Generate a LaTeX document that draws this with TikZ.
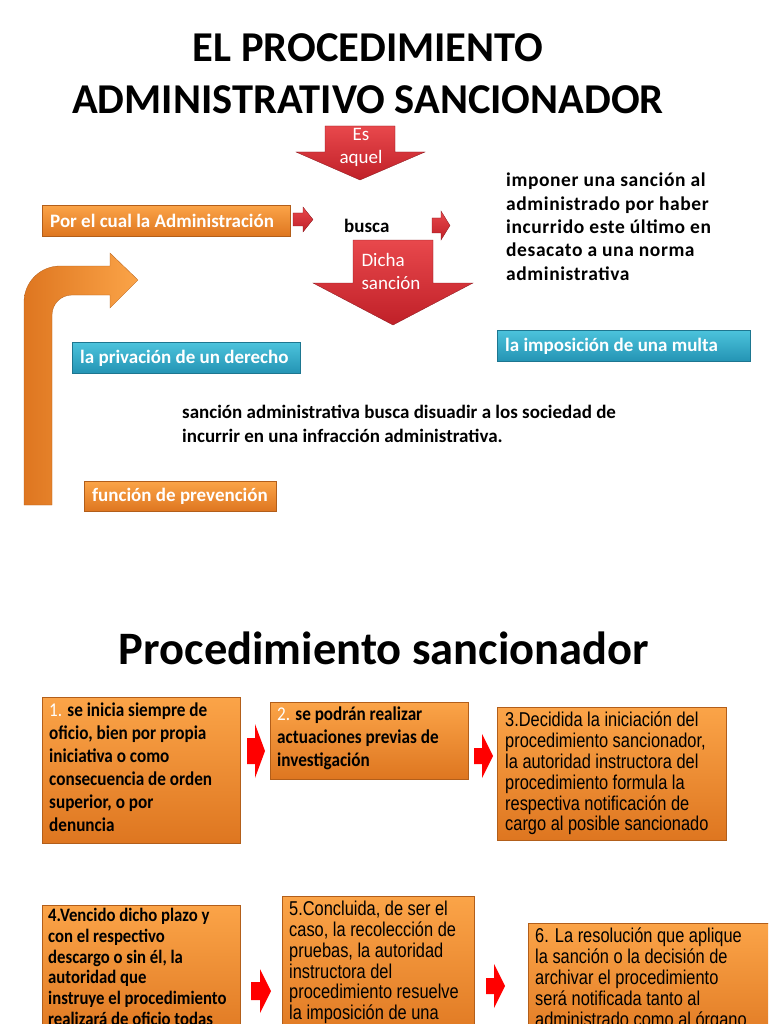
\documentclass[tikz,border=0pt]{standalone}
\usepackage{fontspec}
\setmainfont{Carlito}
\newfontfamily\narrowfont[FakeStretch=0.82]{Liberation Sans}
\newfontfamily\narrowcal[FakeStretch=0.88]{Carlito}
\definecolor{orT}{HTML}{FBA448}
\definecolor{orB}{HTML}{DE7620}
\definecolor{blT}{HTML}{4CC3DC}
\definecolor{blB}{HTML}{2494B4}
\definecolor{rdT}{HTML}{E8484C}
\definecolor{rdB}{HTML}{C02028}
\begin{document}
\begin{tikzpicture}[x=1pt,y=-1pt,
  obox/.style={top color=orT,bottom color=orB,draw=orB!80!black,line width=0.4pt},
  bbox/.style={top color=blT,bottom color=blB,draw=blB!80!black,line width=0.4pt},
  rarr/.style={top color=rdT,bottom color=rdB,draw=rdB!70!black,line width=0.3pt},
  flat/.style={fill=red,draw=none},
  lbl/.style={anchor=west,inner sep=0pt,font=\fontsize{19}{22}\selectfont\bfseries},
  wt/.style={text=white}]
\useasboundingbox (0,0) rectangle (768,1024);
\clip (0,0) rectangle (768,1024);
% title
\node[font=\fontsize{42.5}{48}\selectfont\bfseries] (t1) at (368,48) {EL PROCEDIMIENTO};
\node[font=\fontsize{42.5}{48}\selectfont\bfseries] (t2) at (368,100) {ADMINISTRATIVO SANCIONADOR};
% Es aquel arrow
\path[rarr] (325,126) -- (395,126) -- (395,152) -- (425,152) -- (360,180) -- (296,152) -- (325,152) -- cycle;
\node[wt,align=center,font=\fontsize{19}{23}\selectfont] (esaquel) at (361,147) {Es\\aquel};
% por el cual
\node[obox,minimum width=248pt,minimum height=31pt,anchor=north west,inner sep=0pt] (porel) at (42,205) {};
\node[lbl,wt] (porelt) at (50,220.5) {Por el cual la Administración};
\path[rarr] (293,213) -- (303,213) -- (303,207) -- (313,219.5) -- (303,232) -- (303,226) -- (293,226) -- cycle;
\node[lbl] (busca) at (344,226) {busca};
\path[rarr] (432,218) -- (441,218) -- (441,211) -- (450,225.5) -- (441,240) -- (441,233) -- (432,233) -- cycle;
% Dicha sancion arrow
\path[rarr] (353,240) -- (433,240) -- (433,283) -- (473,283) -- (393,325) -- (313,283) -- (353,283) -- cycle;
\node[wt,align=left,font=\fontsize{19}{23}\selectfont] (dicha) at (391,271) {Dicha\\sanción};
% right text
\node[anchor=north west,inner sep=0pt,align=left,font=\fontsize{19.5}{23.3}\selectfont\bfseries\addfontfeature{LetterSpace=3}] (impon) at (506,173)
 {imponer una sanción al\\administrado por haber\\incurrido este último en\\desacato a una norma\\administrativa};
% blue boxes
\node[bbox,minimum width=253pt,minimum height=31pt,anchor=north west,inner sep=0pt] (multa) at (497,330) {};
\node[lbl,wt] (multat) at (505,346) {la imposición de una multa};
\node[bbox,minimum width=228pt,minimum height=31pt,anchor=north west,inner sep=0pt] (priv) at (72,342) {};
\node[lbl,wt] (privt) at (80,358) {la privación de un derecho};
% sancion admin text
\node[anchor=north west,inner sep=0pt,align=left,font=\fontsize{19}{24}\selectfont\bfseries] (disu) at (182,405)
 {sanción administrativa busca disuadir a los sociedad de\\incurrir en una infracción administrativa.};
% funcion de prevencion
\node[obox,minimum width=192pt,minimum height=30pt,anchor=north west,inner sep=0pt] (func) at (84,481) {};
\node[lbl,wt] (funct) at (92,496) {función de prevención};
% bent arrow
\path[left color=orB,right color=orT,draw=orB!80!black,line width=0.3pt]
  (24,505) -- (24,302) arc[start angle=180,end angle=270,radius=36] -- (110,266) -- (110,253) -- (138,280)
  -- (110,308) -- (110,295) -- (72,295) arc[start angle=270,end angle=180,radius=20] -- (52,505) -- cycle;
% section 2
\node[font=\fontsize{46.5}{52}\selectfont\bfseries] (t3) at (384,648) {Procedimiento sancionador};
\tikzset{sbox/.style={obox,anchor=north west,inner sep=0pt}}
\node[sbox,minimum width=198pt,minimum height=146pt] (b1) at (42,697) {};
\node[anchor=north west,inner sep=0pt,align=left,font=\narrowcal\fontsize{19.5}{23}\selectfont\bfseries] (b1t) at (49,703)
 {{\color{white}\mdseries 1.} se inicia siempre de\\oficio, bien por propia\\iniciativa o como\\consecuencia de orden\\superior, o por\\denuncia};
\node[sbox,minimum width=198pt,minimum height=77pt] (b2) at (270,702) {};
\node[anchor=north west,inner sep=0pt,align=left,font=\narrowcal\fontsize{19.5}{23}\selectfont\bfseries] (b2t) at (277,707)
 {{\color{white}\mdseries 2.} se podrán realizar\\actuaciones previas de\\investigación};
\node[sbox,minimum width=229pt,minimum height=133pt] (b3) at (497,707) {};
\node[anchor=north west,inner sep=0pt,align=left,font=\narrowfont\fontsize{20}{20.8}\selectfont] (b3t) at (505,712)
 {3.Decidida la iniciación del\\procedimiento sancionador,\\la autoridad instructora del\\procedimiento formula la\\respectiva notificación de\\cargo al posible sancionado};
\path[flat] (247,738) -- (255,738) -- (255,724) -- (265,751) -- (255,778) -- (255,764) -- (247,764) -- cycle;
\path[flat] (474,748) -- (482,748) -- (482,734) -- (493,756) -- (482,778) -- (482,764) -- (474,764) -- cycle;
% row 2
\node[sbox,minimum width=198pt,minimum height=140pt] (b4) at (42,905) {};
\node[anchor=north west,inner sep=0pt,align=left,font=\narrowcal\fontsize{19}{20.8}\selectfont\bfseries] (b4t) at (48,908)
 {4.Vencido dicho plazo y\\con el respectivo\\descargo o sin él, la\\autoridad que\\instruye el procedimiento\\realizará de oficio todas};
\node[sbox,minimum width=192pt,minimum height=150pt] (b5) at (282,896) {};
\node[anchor=north west,inner sep=0pt,align=left,font=\narrowfont\fontsize{20}{20.8}\selectfont] (b5t) at (289,901)
 {5.Concluida, de ser el\\caso, la recolección de\\pruebas, la autoridad\\instructora del\\procedimiento resuelve\\la imposición de una};
\node[sbox,minimum width=245pt,minimum height=130pt] (b6) at (528,923) {};
\node[anchor=north west,inner sep=0pt,align=left,font=\narrowfont\fontsize{20}{20.8}\selectfont] (b6t) at (535,928)
 {6. La resolución que aplique\\la sanción o la decisión de\\archivar el procedimiento\\será notificada tanto al\\administrado como al órgano};
\path[flat] (251,982) -- (260,982) -- (260,969) -- (271,991) -- (260,1013) -- (260,1000) -- (251,1000) -- cycle;
\path[flat] (486,978) -- (494,978) -- (494,964) -- (505,986) -- (494,1008) -- (494,994) -- (486,994) -- cycle;
\end{tikzpicture}
\end{document}
